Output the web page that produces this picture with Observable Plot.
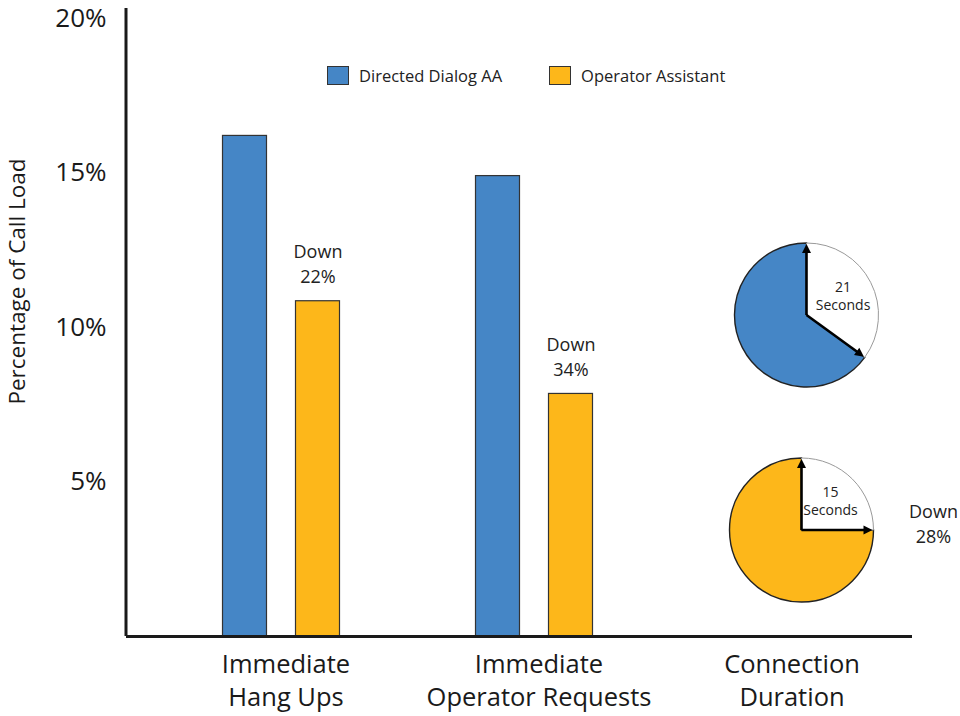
<!DOCTYPE html>
<html>
<head>
<meta charset="utf-8">
<script src="https://cdn.jsdelivr.net/npm/d3@7"></script>
<script src="https://cdn.jsdelivr.net/npm/@observablehq/plot@0.6"></script>
<style>
  html, body { margin: 0; padding: 0; background: #fff; }
  #wrap { position: relative; width: 960px; height: 716px; font-family: "Open Sans", sans-serif; }
  #legend { position: absolute; left: 327px; top: 64px; display: flex; align-items: center; font-size: 16.5px; color: #222; }
  #legend .item { display: flex; align-items: center; margin-right: 47px; }
  #legend .sw { width: 20px; height: 17px; border: 1.5px solid #333; margin-right: 10px; }
</style>
</head>
<body>
<div id="wrap"><div id="legend"></div></div>
<script>
// ---- data ----
const categories = ["Immediate Hang Ups", "Immediate Operator Requests", "Connection Duration"];
const xTickLabels = ["Immediate\nHang Ups", "Immediate\nOperator Requests", "Connection\nDuration"];
const series = ["Directed Dialog AA", "Operator Assistant"];
const colors = ["#4586c6", "#fdb71a"];
const directedDialog = [16.2, 14.9];     // % of call load
const operatorAssistant = [10.85, 7.85]; // % of call load
const changeLabels = ["Down\n22%", "Down\n34%"];
const durationSeconds = [21, 15];        // Directed Dialog AA, Operator Assistant
const durationChange = "Down\n28%";
const yTicks = [5, 10, 15, 20];
const yLabel = "Percentage of Call Load";

// ---- tables ----
const ddRows = directedDialog.map((v, i) => ({category: categories[i], series: series[0], value: v}));
const oaRows = operatorAssistant.map((v, i) => ({category: categories[i], series: series[1], value: v, label: changeLabels[i]}));

// ---- custom mark: left axis line + duration pies ----
function durationPies(index, scales, values, dimensions) {
  const x = scales.x;
  const bw = typeof x.bandwidth === "function" ? x.bandwidth() : 0;
  const cx = x(categories[2]) + bw / 2;
  const {marginLeft, marginTop, height, marginBottom} = dimensions;
  const g = d3.create("svg:g");
  g.append("line")
    .attr("x1", marginLeft).attr("x2", marginLeft)
    .attr("y1", marginTop).attr("y2", height - marginBottom)
    .attr("stroke", "#1a1a1a").attr("stroke-width", 3);
  const layout = [{dx: 15, cy: 315}, {dx: 10, cy: 530}];
  const r = 72;
  const arc = d3.arc();
  durationSeconds.forEach((s, i) => {
    const a = s / 60 * 2 * Math.PI;
    const pg = g.append("g").attr("transform", `translate(${cx + layout[i].dx},${layout[i].cy})`);
    pg.append("path")
      .attr("d", arc({innerRadius: 0, outerRadius: r, startAngle: a, endAngle: 2 * Math.PI}))
      .attr("fill", colors[i]).attr("stroke", "#222").attr("stroke-width", 1.4);
    pg.append("path")
      .attr("d", arc({innerRadius: 0, outerRadius: r, startAngle: 0, endAngle: a}))
      .attr("fill", "#fff").attr("stroke", "#9a9a9a").attr("stroke-width", 1);
    for (const ang of [0, a]) {
      const ux = Math.sin(ang), uy = -Math.cos(ang);
      const px = -uy, py = ux;
      const tip = r - 1, L = 9, W = 4.5;
      pg.append("line")
        .attr("x1", 0).attr("y1", 0)
        .attr("x2", (tip - L + 1) * ux).attr("y2", (tip - L + 1) * uy)
        .attr("stroke", "#000").attr("stroke-width", 2.6);
      const pts = [
        [tip * ux, tip * uy],
        [(tip - L) * ux + W * px, (tip - L) * uy + W * py],
        [(tip - L) * ux - W * px, (tip - L) * uy - W * py]
      ];
      pg.append("polygon").attr("points", pts.map(p => p.join(",")).join(" ")).attr("fill", "#000");
    }
    const mid = a / 2, tr = r * 0.57;
    const t = pg.append("text")
      .attr("x", Math.sin(mid) * tr).attr("y", -Math.cos(mid) * tr)
      .attr("text-anchor", "middle").attr("font-size", 14).attr("fill", "#222");
    t.append("tspan").attr("x", Math.sin(mid) * tr).attr("dy", "-0.3em").text(String(s));
    t.append("tspan").attr("x", Math.sin(mid) * tr).attr("dy", "1.3em").text("Seconds");
  });
  const lines = durationChange.split("\n");
  const dt = g.append("text").attr("text-anchor", "middle").attr("font-size", 18).attr("fill", "#222");
  lines.forEach((ln, j) => {
    dt.append("tspan").attr("x", cx + layout[1].dx + 132).attr("y", layout[1].cy - 12 + j * 25).text(ln);
  });
  return g.node();
}

const chart = Plot.plot({
  width: 960,
  height: 716,
  marginLeft: 126,
  marginRight: 48,
  marginTop: 8,
  marginBottom: 80,
  style: {fontFamily: "Open Sans, sans-serif", color: "#1a1a1a", background: "transparent", overflow: "visible"},
  x: {type: "band", domain: categories, range: [158.5, 917.5], padding: 0},
  y: {domain: [0, 20], range: [636, 18]},
  color: {domain: series, range: colors},
  marks: [
    Plot.barY(ddRows, {x: "category", y: "value", fill: "series", stroke: "#333", strokeWidth: 1.2,
      insetLeft: 104.5, insetRight: 104.5, dx: -41}),
    Plot.barY(oaRows, {x: "category", y: "value", fill: "series", stroke: "#333", strokeWidth: 1.2,
      insetLeft: 104.5, insetRight: 104.5, dx: 32}),
    Plot.text(oaRows, {x: "category", y: "value", text: "label", dx: 32, dy: -18,
      lineAnchor: "bottom", lineHeight: 1.38, fontSize: 18, fill: "#222"}),
    Plot.ruleY([0], {stroke: "#1a1a1a", strokeWidth: 3}),
    Plot.axisY({ticks: yTicks, tickFormat: d => d + "%", tickSize: 0, tickPadding: 20, fontSize: 26, label: null}),
    Plot.axisX({tickSize: 0, tickPadding: 13, fontSize: 25.5, lineHeight: 1.3,
      tickFormat: d => xTickLabels[categories.indexOf(d)], label: null}),
    Plot.text([yLabel], {frameAnchor: "left", textAnchor: "middle", rotate: -90, dx: -109, dy: -41, fontSize: 22.5, fill: "#1a1a1a"}),
    durationPies
  ]
});
document.getElementById("wrap").prepend(chart);

// ---- legend ----
const legend = document.getElementById("legend");
series.forEach((s, i) => {
  const item = document.createElement("div");
  item.className = "item";
  const sw = document.createElement("div");
  sw.className = "sw";
  sw.style.background = colors[i];
  const lab = document.createElement("span");
  lab.textContent = s;
  item.append(sw, lab);
  legend.append(item);
});
</script>
</body>
</html>
